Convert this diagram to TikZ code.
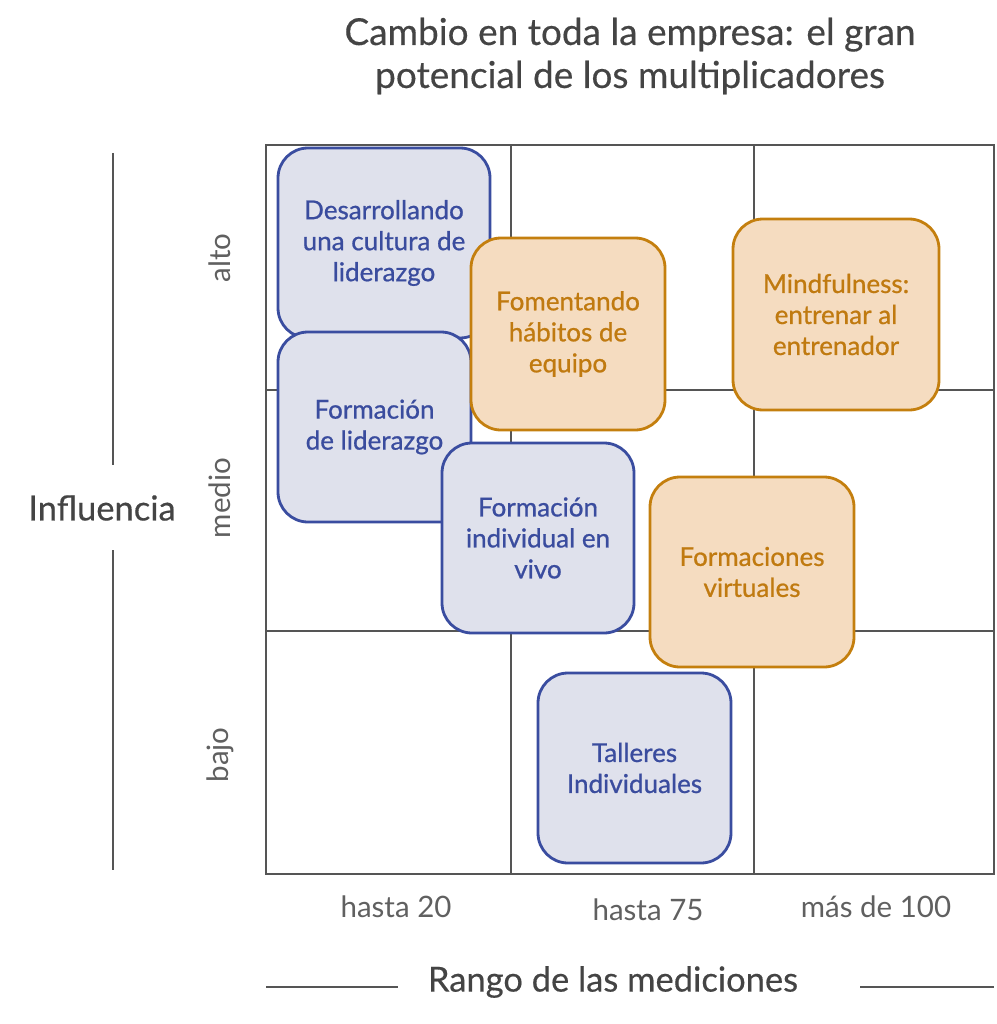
\documentclass[tikz,border=0pt]{standalone}
\usepackage{fontspec}
\setmainfont{Lato}
\newfontfamily\medfont{Lato}[FakeBold=0.8]
\newfontfamily\semifont{Lato}[FakeBold=0.4]
\definecolor{bstroke}{HTML}{3A4DA0}
\definecolor{bfill}{HTML}{DFE1EC}
\definecolor{ostroke}{HTML}{C47F0E}
\definecolor{ofill}{HTML}{F5DCC0}
\definecolor{otext}{HTML}{C07A10}
\definecolor{btext}{HTML}{3A4C9E}
\definecolor{gline}{HTML}{555555}
\definecolor{gtext}{HTML}{444444}
\tikzset{
  bluebox/.style={draw=bstroke, fill=bfill, line width=2.8pt, rounded corners=30pt,
    text=btext, align=center, font=\medfont\fontsize{26}{31}\selectfont, inner sep=0pt},
  orangebox/.style={draw=ostroke, fill=ofill, line width=2.8pt, rounded corners=30pt,
    text=otext, align=center, font=\medfont\fontsize{26}{31}\selectfont, inner sep=0pt},
  gridline/.style={draw=gline, line width=1.8pt},
  axisline/.style={draw=gline, line width=1.8pt},
  lvl/.style={text=gtext!85, font=\fontsize{29.5}{32}\selectfont, inner sep=0pt},
  axlabel/.style={text=gtext, font=\semifont\fontsize{34.5}{40}\selectfont},
}
\newcommand{\boxat}[7]{% style, name, x1, y1, x2, y2, text
  \node[#1, minimum width={(#5-#3)*1pt}, minimum height={(#6-#4)*1pt}, anchor=center] (#2) at ({(#3+#5)/2},{(#4+#6)/2}) {#7};}
\begin{document}
\begin{tikzpicture}[x=1pt,y=-1pt]
\useasboundingbox (0,0) rectangle (996,1024);
% grid
\coordinate (g00) at (266,145);
\coordinate (g11) at (994,874);
\draw[gridline] (g00) rectangle (g11);
\coordinate (c1t) at (511,145); \coordinate (c1b) at (511,874);
\coordinate (c2t) at (754,145); \coordinate (c2b) at (754,874);
\coordinate (r1l) at (266,390); \coordinate (r1r) at (994,390);
\coordinate (r2l) at (266,631); \coordinate (r2r) at (994,631);
\draw[gridline] (c1t) -- (c1b);
\draw[gridline] (c2t) -- (c2b);
\draw[gridline] (r1l) -- (r1r);
\draw[gridline] (r2l) -- (r2r);
% boxes
\boxat{bluebox}{des}{278}{148}{490}{338}{Desarrollando\\una cultura de\\liderazgo}
\boxat{bluebox}{flid}{278}{332}{471}{522}{Formación\\de liderazgo}
\boxat{orangebox}{fom}{471}{238}{665}{430}{Fomentando\\hábitos de\\equipo}
\boxat{orangebox}{mind}{733}{219}{939}{410}{Mindfulness:\\entrenar al\\entrenador}
\boxat{bluebox}{find}{442}{443}{634}{633}{Formación\\individual en\\vivo}
\boxat{orangebox}{fvir}{650}{477}{854}{667}{Formaciones\\virtuales}
\boxat{bluebox}{tall}{538}{673}{731}{863}{Talleres\\Individuales}
% title
\node[text=gtext, align=center, font=\semifont\fontsize{37}{43}\selectfont] (title) at (630,56) {Cambio en toda la empresa: el gran\\potencial de los multiplicadores};
% left axis
\node[axlabel] (infl) at (102,508) {Influencia};
\coordinate (la1) at (113,153); \coordinate (la2) at (113,465);
\coordinate (la3) at (113,550); \coordinate (la4) at (113,870);
\draw[axisline] (la1) -- (la2);
\draw[axisline] (la3) -- (la4);
\node[lvl, rotate=90] (alto) at (220,258) {alto};
\node[lvl, rotate=90] (medio) at (220,498) {medio};
\node[lvl, rotate=90] (bajo) at (220,755) {bajo};
% bottom axis
\node[lvl] (h20) at (396,907) {hasta 20};
\node[lvl] (h75) at (648,910) {hasta 75};
\node[lvl] (m100) at (876,907) {más de 100};
\node[axlabel] (rango) at (613,982) {Rango de las mediciones};
\coordinate (ba1) at (266,987); \coordinate (ba2) at (398,987);
\coordinate (ba3) at (860,987); \coordinate (ba4) at (994,987);
\draw[axisline] (ba1) -- (ba2);
\draw[axisline] (ba3) -- (ba4);
\end{tikzpicture}
\end{document}
